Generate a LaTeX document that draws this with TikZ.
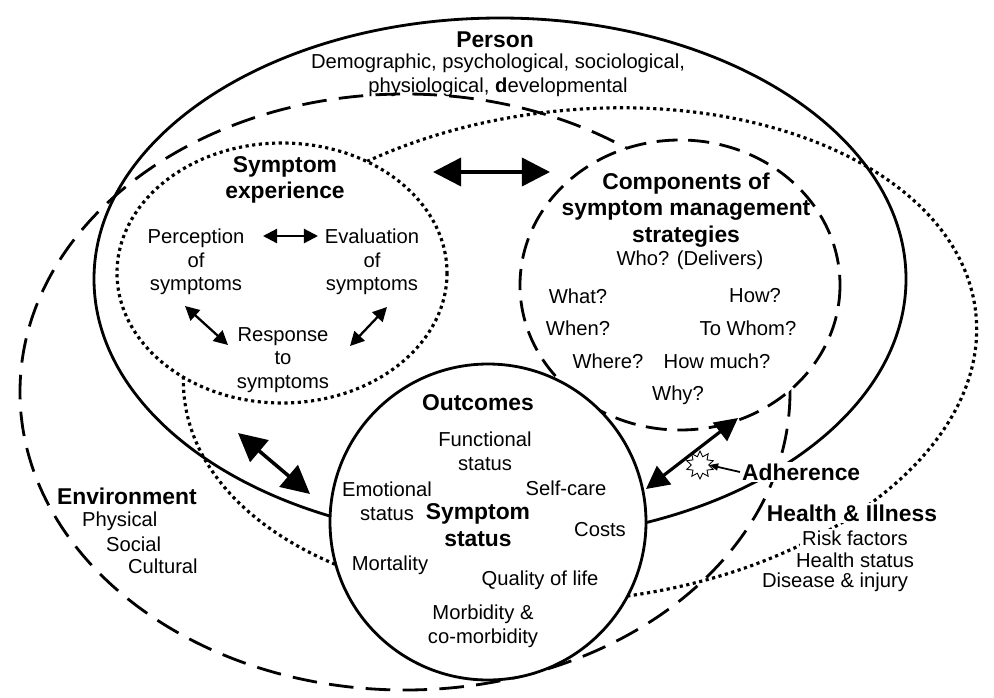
\documentclass[tikz,border=0pt]{standalone}
\usepackage{fontspec}
\setmainfont{Liberation Sans}
\usetikzlibrary{shapes.geometric, arrows.meta, calc}

\begin{document}
\begin{tikzpicture}[x=0.02cm,y=-0.02cm,
    txt/.style={font=\fontsize{11.5}{13.5}\selectfont, align=center, inner sep=1pt},
    ttl/.style={font=\fontsize{13}{15}\selectfont\bfseries, align=center, inner sep=1pt},
    big/.style={{Triangle[length=16pt,width=16pt]}-{Triangle[length=16pt,width=16pt]}, line width=2pt},
    small/.style={{Triangle[length=8pt,width=8pt]}-{Triangle[length=8pt,width=8pt]}, line width=1.3pt}]
      \useasboundingbox (0,0) rectangle (994,697);

      % areas
      \draw[line width=1.6pt] (500,279) ellipse [x radius=406, y radius=261];
      \draw[line width=1.6pt, dash pattern=on 14pt off 7pt] (405,392) ellipse [x radius=385, y radius=298];
      \draw[line width=1.8pt, dotted, rotate around={6:(580,355)}] (580,355) ellipse [x radius=398, y radius=245];
      \draw[line width=1.8pt, dotted, fill=white] (282,273) ellipse [x radius=165, y radius=130];
      \draw[line width=1.6pt, dash pattern=on 12pt off 6pt, fill=white] (680,285) ellipse [x radius=160, y radius=145];
      \draw[line width=1.6pt, fill=white] (488,522) circle [radius=158];

      % person
      \node[ttl] (person) at (495,40) {Person};
      \node[txt] (persond) at (498,75) {Demographic, psychological, sociological,\\physiological, {\bfseries d}evelopmental};

      % symptom experience
      \node[ttl] (sympexp) at (285,180) {Symptom\\experience};
      \node[txt] (perc) at (196,262) {Perception\\of\\symptoms};
      \node[txt] (eval) at (372,262) {Evaluation\\of\\symptoms};
      \node[txt] (resp) at (283,360) {Response\\to\\symptoms};
      \coordinate (pe1) at (263,236); \coordinate (pe2) at (318,236);
      \coordinate (pr1) at (185,306); \coordinate (pr2) at (228,345);
      \coordinate (er1) at (387,307); \coordinate (er2) at (350,346);
      \draw[small] (pe1) -- (pe2);
      \draw[small] (pr1) -- (pr2);
      \draw[small] (er1) -- (er2);

      % strategies
      \node[ttl] (comp) at (686,210) {Components of\\symptom management\\strategies};
      \node[txt] (who) at (690,260) {Who? (Delivers)};
      \node[txt] (what) at (578,296) {What?};
      \node[txt] (how) at (755,296) {How?};
      \node[txt] (when) at (578,328) {When?};
      \node[txt] (whom) at (748,328) {To Whom?};
      \node[txt] (where) at (608,361) {Where?};
      \node[txt] (much) at (717,361) {How much?};
      \node[txt] (why) at (678,395) {Why?};

      % outcomes
      \node[ttl] (outc) at (478,403) {Outcomes};
      \node[txt] (func) at (485,451) {Functional\\status};
      \node[txt] (selfc) at (566,488) {Self-care};
      \node[txt] (emot) at (387,501) {Emotional\\status};
      \node[ttl] (sstat) at (478,525) {Symptom\\status};
      \node[txt] (costs) at (600,530) {Costs};
      \node[txt] (mort) at (390,565) {Mortality};
      \node[txt] (qol) at (540,580) {Quality of  life};
      \node[txt] (morb) at (483,626) {Morbidity \&\\co-morbidity};

      % environment and health
      \node[ttl, anchor=west, fill=white] (env) at (55,496) {Environment};
      \node[txt, anchor=west] (phys) at (80,521) {Physical};
      \node[txt, anchor=west] (soc) at (104,544) {Social};
      \node[txt, anchor=west] (cult) at (126,566) {Cultural};
      \node[ttl, fill=white] (health) at (852,513) {Health \& Illness};
      \node[txt, fill=white] (risk) at (855,538) {Risk  factors};
      \node[txt, fill=white] (hstat) at (855,560) {Health status};
      \node[txt, fill=white] (dis) at (835,582) {Disease \& injury};

      % links
      \coordinate (m1) at (433,172); \coordinate (m2) at (550,172);
      \coordinate (l1) at (238,433); \coordinate (l2) at (310,494);
      \coordinate (r1) at (646,489); \coordinate (r2) at (738,418);
      \draw[big] (m1) -- (m2);
      \draw[big] (l1) -- (l2);
      \draw[{Triangle[length=13pt,width=13pt]}-{Triangle[length=13pt,width=13pt]}, line width=1.8pt] (r1) -- (r2);
      \node[star, star points=10, star point ratio=1.6, draw, fill=white, inner sep=3.5pt, line width=0.5pt] (star) at (700,465) {};
      \node[ttl, anchor=west, fill=white] (adh) at (740,472) {Adherence};
      \draw[-{Triangle[length=5pt,width=4pt]}, line width=1pt] (adh.west) -- (star.east);
\end{tikzpicture}
\end{document}
